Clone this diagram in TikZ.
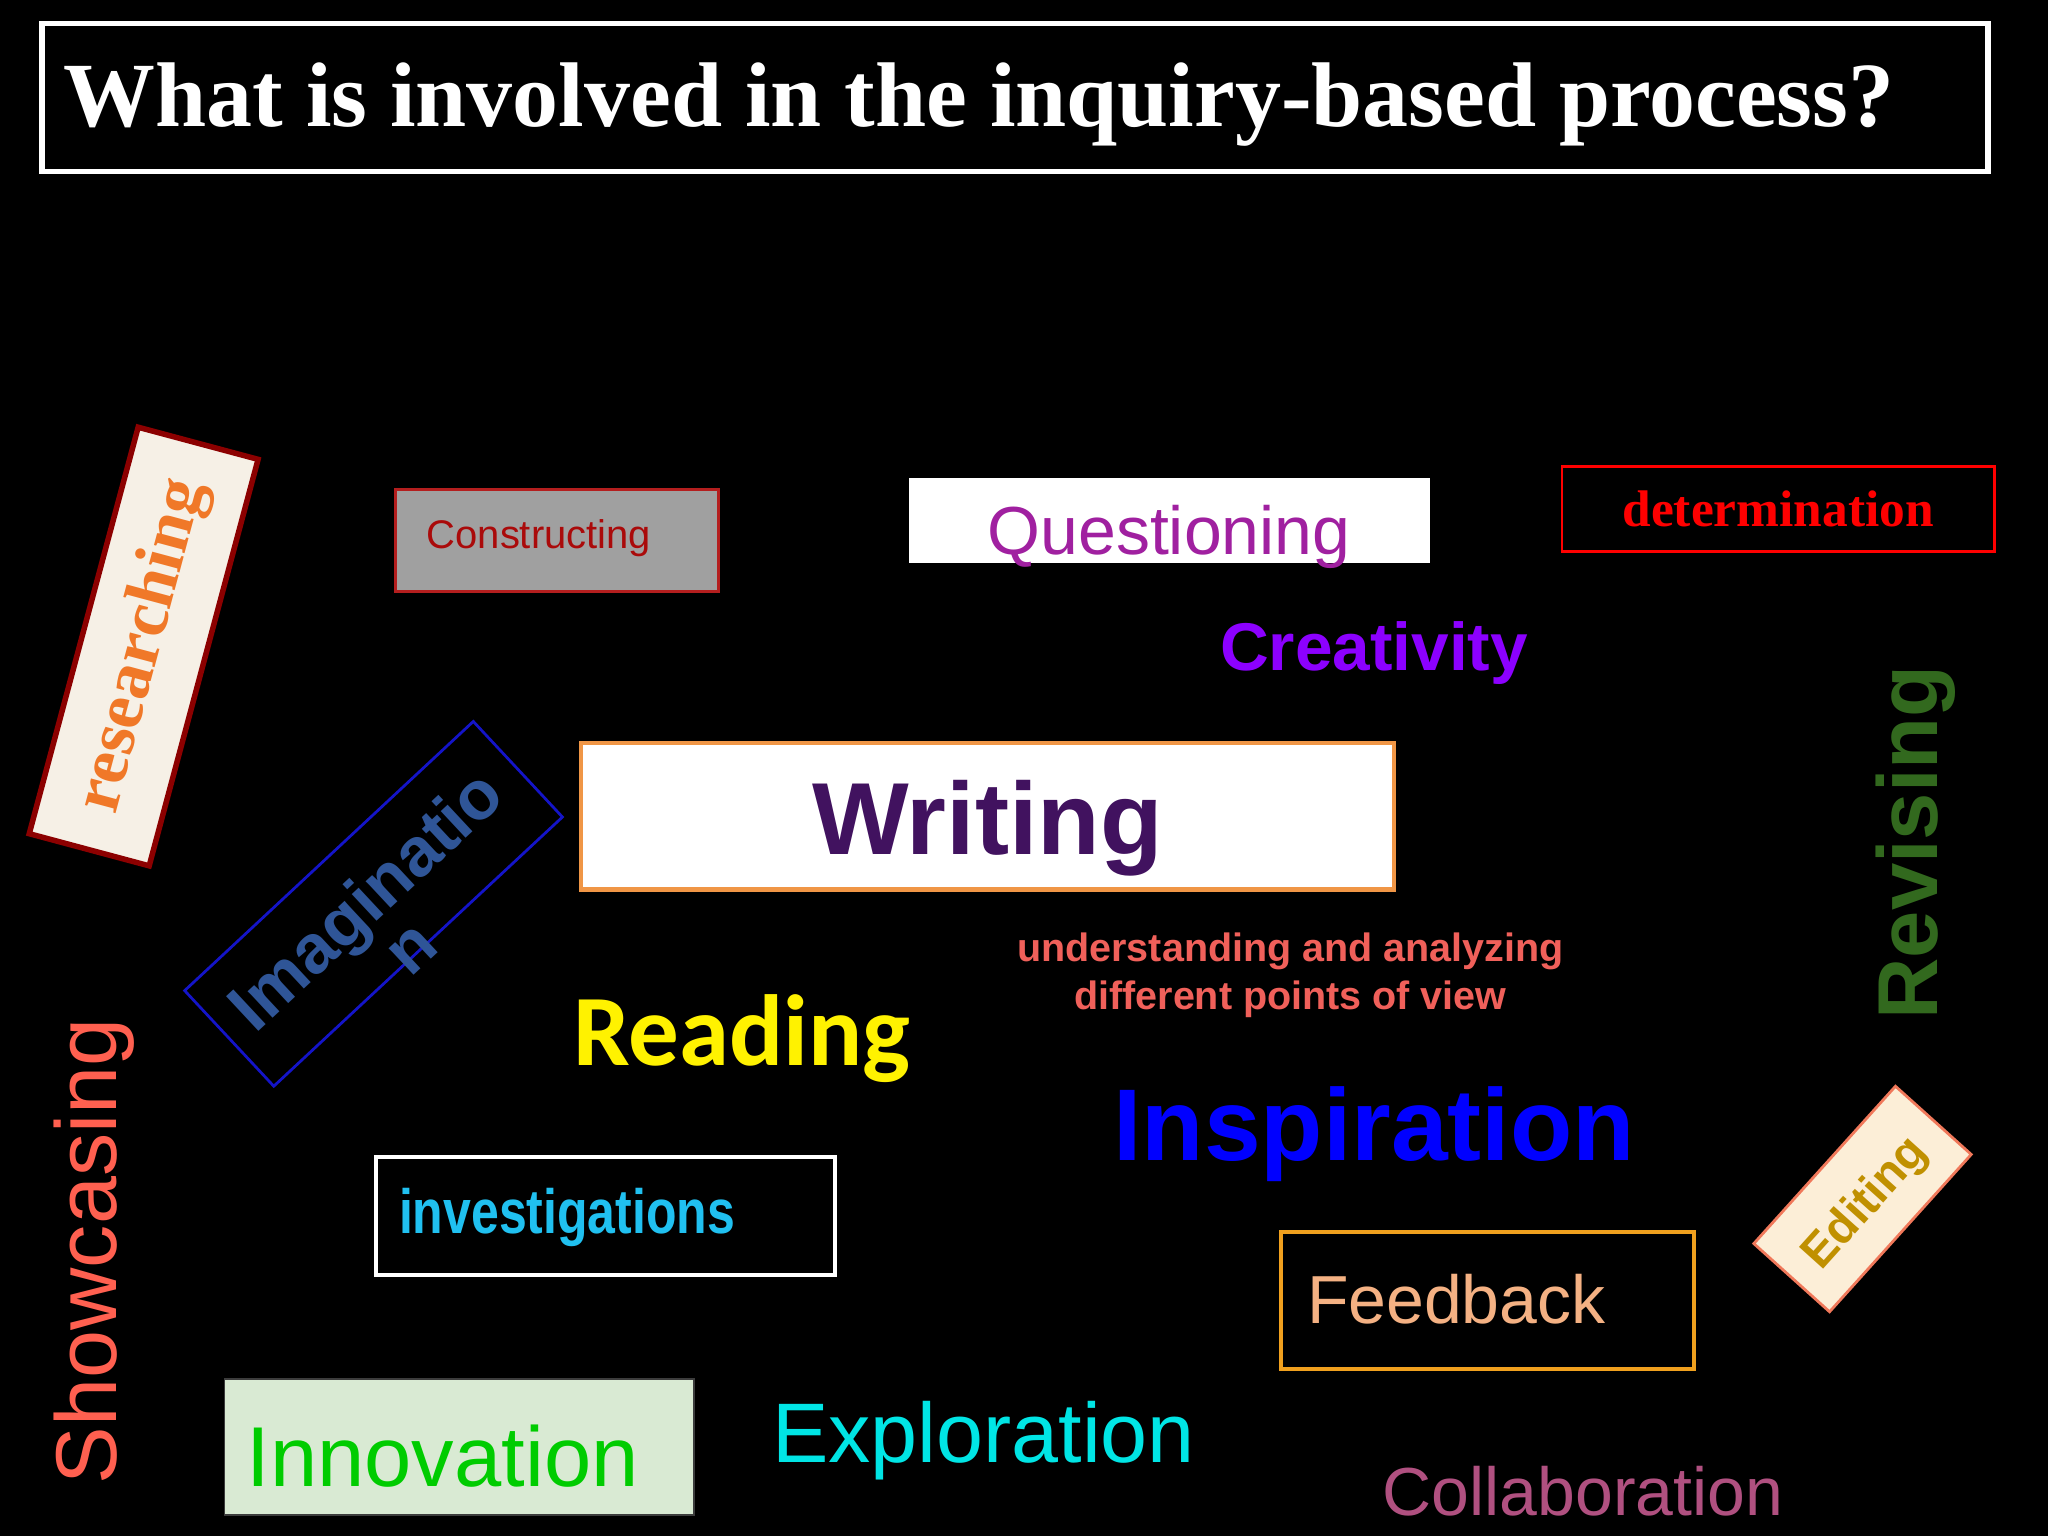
\documentclass[tikz,border=0pt]{standalone}
\usepackage{fontspec}
\setmainfont{Liberation Serif}
\setsansfont{Liberation Sans}
\newfontfamily\carlitofont{Carlito}
\begin{document}
\begin{tikzpicture}[x=0.01cm,y=-0.01cm,
 lbl/.style={inner sep=0pt,font=\sffamily},
 bx/.style={draw,line width=0.6pt}]
\useasboundingbox[fill=black] (0,0) rectangle (1568,1176);
% title
\node[bx,draw=white,line width=1.2pt,anchor=north west,minimum width=14.89cm,minimum height=1.13cm] (tb) at (30,16) {};
\node[anchor=west,text=white,font=\fontsize{20}{23}\selectfont\bfseries,inner sep=0pt] (title) at (48,80) {What is involved in the inquiry-based process?};
% researching
\node[bx,draw=red!55!black,line width=1.2pt,fill={rgb,255:red,246;green,240;blue,230},rotate=75,minimum width=3.22cm,minimum height=0.95cm,text={rgb,255:red,240;green,120;blue,40},font=\fontsize{15}{17}\selectfont\bfseries,inner sep=0pt] (res) at (110,495) {researching};
% Constructing
\node[bx,draw={rgb,255:red,180;green,30;blue,30},fill={rgb,255:red,160;green,160;blue,160},minimum width=2.47cm,minimum height=0.78cm,anchor=north west] (conb) at (302,374) {};
\node[lbl,anchor=west,text={rgb,255:red,170;green,10;blue,10},font=\sffamily\fontsize{8.7}{10}\selectfont] (con) at (326,412) {Constructing};
% Questioning
\node[fill=white,minimum width=3.99cm,minimum height=0.65cm,inner sep=0pt] (qb) at (895.5,398.5) {};
\node[lbl,text={rgb,255:red,160;green,32;blue,160},font=\sffamily\fontsize{14.8}{16}\selectfont] (q) at (895,411) {Questioning};
% determination
\node[bx,draw=red,minimum width=3.31cm,minimum height=0.65cm,text=red,font=\fontsize{11.2}{12}\selectfont\bfseries] (det) at (1361.5,389.5) {determination};
% Creativity
\node[lbl,text={rgb,255:red,140;green,0;blue,255},font=\sffamily\bfseries\fontsize{14.7}{16}\selectfont] (cre) at (1052,500) {Creativity};
% Revising
\node[lbl,rotate=90,text={rgb,255:red,50;green,105;blue,30},font=\sffamily\bfseries\fontsize{18.5}{20}\selectfont] (rev) at (1467,645) {Revising};
% Writing
\node[bx,draw={rgb,255:red,240;green,150;blue,70},line width=0.9pt,fill=white,minimum width=6.22cm,minimum height=1.12cm] (wb) at (756,625) {};
\node[lbl,text={rgb,255:red,65;green,18;blue,95},font=\sffamily\bfseries\fontsize{22.3}{24}\selectfont] (w) at (756,634) {Writing};
% Imagination
\node[bx,draw={rgb,255:red,20;green,20;blue,200},rotate=43,minimum width=3.02cm,minimum height=1.0cm,inner sep=0pt] (img) at (286,692) {};
\node[lbl,rotate=43,align=center,text={rgb,255:red,47;green,85;blue,151},font=\sffamily\bfseries\fontsize{15}{14}\selectfont] (imgt) at (296,706) {Imaginatio\\n};
% understanding
\node[lbl,align=center,text={rgb,255:red,240;green,96;blue,90},font=\sffamily\bfseries\fontsize{8.6}{10.5}\selectfont] (und) at (988,747) {understanding and analyzing\\different points of view};
% Reading
\node[lbl,text=yellow,font=\carlitofont\bfseries\fontsize{22}{24}\selectfont] (rd) at (568,795) {Reading};
% Inspiration
\node[lbl,text={rgb,255:red,0;green,0;blue,255},font=\sffamily\bfseries\fontsize{22.2}{24}\selectfont] (ins) at (1052,868) {Inspiration};
% investigations
\node[bx,draw=white,line width=0.9pt,minimum width=3.51cm,minimum height=0.9cm] (invb) at (463.5,931) {};
\node[lbl,anchor=west,text={rgb,255:red,32;green,192;blue,240},font=\sffamily\bfseries\fontsize{13.6}{14}\selectfont,xscale=0.8] (inv) at (305,932) {investigations};
% Showcasing
\node[lbl,rotate=90,text={rgb,255:red,255;green,96;blue,80},font=\sffamily\fontsize{18.8}{20}\selectfont] (sh) at (72,958) {Showcasing};
% Editing
\node[bx,draw={rgb,255:red,240;green,120;blue,90},fill={rgb,255:red,252;green,238;blue,215},rotate=48,minimum width=1.62cm,minimum height=0.78cm,inner sep=0pt] (ed) at (1426,918) {};
\node[lbl,rotate=48,text={rgb,255:red,192;green,144;blue,0},font=\sffamily\bfseries\fontsize{10.3}{11}\selectfont] (edt) at (1429,922) {Editing};
% Feedback
\node[bx,draw={rgb,255:red,240;green,160;blue,30},line width=0.9pt,minimum width=3.16cm,minimum height=1.05cm] (fbb) at (1139,995.5) {};
\node[lbl,anchor=west,text={rgb,255:red,244;green,177;blue,131},font=\sffamily\fontsize{14.8}{16}\selectfont] (fb) at (1000,995) {Feedback};
% Innovation
\node[draw={rgb,255:red,60;green,60;blue,60},fill={rgb,255:red,217;green,234;blue,211},minimum width=3.59cm,minimum height=1.04cm,inner sep=0pt] (innb) at (351.5,1108) {};
\node[lbl,anchor=west,text={rgb,255:red,0;green,204;blue,0},font=\sffamily\fontsize{18.5}{20}\selectfont] (inn) at (188,1115) {Innovation};
% Exploration
\node[lbl,text={rgb,255:red,0;green,229;blue,229},font=\sffamily\fontsize{18.4}{20}\selectfont] (exp) at (753,1103) {Exploration};
% Collaboration
\node[lbl,text={rgb,255:red,176;green,80;blue,128},font=\sffamily\fontsize{14.8}{16}\selectfont] (col) at (1212,1142) {Collaboration};
\end{tikzpicture}
\end{document}
